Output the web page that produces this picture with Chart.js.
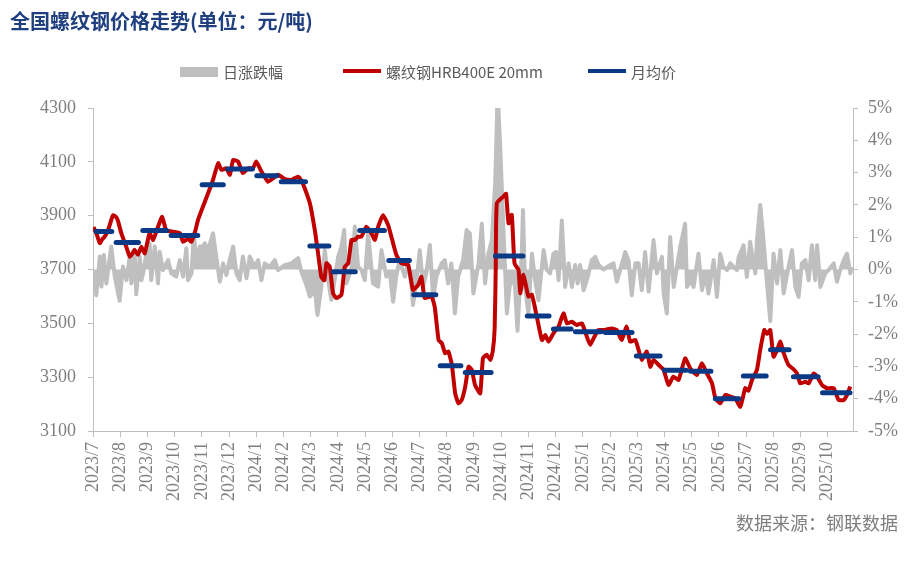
<!DOCTYPE html>
<html>
<head>
<meta charset="utf-8">
<script src="https://cdn.jsdelivr.net/npm/chart.js@4.4.1/dist/chart.umd.min.js"></script>
<style>
    html, body { margin: 0; padding: 0; background: #ffffff; }
    #wrap { width: 916px; height: 561px; }
</style>
</head>
<body>
<div id="wrap"><canvas id="priceChart" width="916" height="561"></canvas></div>
<script>
// Etiquetas del eje X (una por marca)
const monthLabels = [
    '2023/7', '2023/8', '2023/9', '2023/10', '2023/11', '2023/12',
    '2024/1', '2024/2', '2024/3', '2024/4', '2024/5', '2024/6',
    '2024/7', '2024/8', '2024/9', '2024/10', '2024/11', '2024/12',
    '2025/1', '2025/2', '2025/3', '2025/4', '2025/5', '2025/6',
    '2025/7', '2025/8', '2025/9', '2025/10'
];

// Inicio de cada mes sobre el eje (en unidades de marca), el ultimo es el fin de datos
const monthEdges = [
    0.04, 0.77, 1.75, 2.79, 3.93, 4.87, 5.94, 6.84, 7.89, 8.75, 9.72, 10.79,
    11.71, 12.68, 13.60, 14.71, 15.88, 16.84, 17.65, 18.75, 19.89, 20.92,
    21.88, 22.79, 23.82, 24.82, 25.66, 26.73, 27.90
];

// 月均价
const monthAvg = [
    3841, 3800, 3845, 3826, 4015, 4073, 4048, 4026, 3787, 3692, 3845, 3733,
    3606, 3342, 3317, 3750, 3527, 3479, 3469, 3466, 3379, 3326, 3322, 3220,
    3304, 3402, 3302, 3242
];

// 螺纹钢HRB400E 20mm
const priceDays = [
    0.02, 0.14, 0.25, 0.34, 0.43, 0.55, 0.66, 0.74, 0.85, 0.92, 1.04, 1.22, 1.35, 1.45, 1.53, 1.65,
    1.78, 1.90, 2.08, 2.21, 2.39, 2.54, 2.69, 2.85, 3.00, 3.19, 3.31, 3.49, 3.61, 3.75, 3.86, 4.04,
    4.23, 4.41, 4.60, 4.72, 4.90, 5.03, 5.15, 5.33, 5.51, 5.70, 5.88, 6.00, 6.19, 6.43, 6.62, 6.80,
    7.05, 7.29, 7.54, 7.66, 7.78, 7.97, 8.15, 8.27, 8.39, 8.50, 8.58, 8.70, 8.82, 8.94, 9.13, 9.25,
    9.38, 9.50, 9.62, 9.74, 9.86, 10.05, 10.23, 10.36, 10.48, 10.66, 10.85, 11.03, 11.15, 11.33, 11.58, 11.76,
    11.95, 12.07, 12.19, 12.44, 12.56, 12.70, 12.82, 12.94, 13.06, 13.19, 13.31, 13.43, 13.55, 13.68, 13.80, 13.92,
    14.04, 14.23, 14.33, 14.47, 14.60, 14.69, 14.76, 14.80, 14.84, 15.08, 15.18, 15.27, 15.39, 15.49, 15.64, 15.70,
    15.82, 16.00, 16.13, 16.31, 16.50, 16.62, 16.74, 16.92, 17.11, 17.29, 17.42, 17.60, 17.78, 17.97, 18.15, 18.27,
    18.46, 18.58, 18.76, 19.07, 19.25, 19.43, 19.61, 19.74, 19.93, 20.05, 20.17, 20.35, 20.48, 20.60, 20.78, 20.97,
    21.15, 21.33, 21.52, 21.76, 21.95, 22.19, 22.38, 22.56, 22.75, 22.87, 23.05, 23.24, 23.42, 23.60, 23.79, 23.97,
    24.09, 24.22, 24.40, 24.52, 24.67, 24.77, 24.89, 25.01, 25.14, 25.26, 25.38, 25.56, 25.74, 25.87, 25.99, 26.18,
    26.30, 26.49, 26.61, 26.79, 26.97, 27.22, 27.40, 27.59, 27.71, 27.83
];
const priceValues = [
    3858, 3830, 3798, 3812, 3822, 3845, 3880, 3902, 3895, 3880, 3835, 3785, 3748, 3760, 3773, 3755,
    3785, 3760, 3835, 3810, 3859, 3896, 3845, 3842, 3839, 3835, 3803, 3815, 3803, 3840, 3884, 3933,
    3983, 4033, 4095, 4070, 4076, 4052, 4107, 4101, 4058, 4076, 4076, 4101, 4064, 4026, 4039, 4052,
    4036, 4033, 4045, 4030, 4002, 3946, 3847, 3761, 3673, 3660, 3723, 3710, 3612, 3594, 3606, 3710,
    3723, 3810, 3810, 3822, 3822, 3859, 3835, 3810, 3859, 3902, 3864, 3797, 3754, 3723, 3717, 3624,
    3643, 3673, 3594, 3600, 3560, 3438, 3426, 3389, 3395, 3345, 3240, 3203, 3215, 3265, 3339, 3327,
    3271, 3240, 3370, 3383, 3364, 3395, 3480, 3700, 3946, 3971, 3981, 3872, 3903, 3723, 3698, 3612,
    3680, 3600, 3606, 3525, 3438, 3457, 3432, 3463, 3488, 3537, 3500, 3506, 3494, 3500, 3450, 3420,
    3457, 3475, 3475, 3481, 3475, 3438, 3488, 3432, 3438, 3401, 3364, 3395, 3339, 3364, 3346, 3327,
    3271, 3302, 3290, 3370, 3333, 3308, 3352, 3314, 3277, 3222, 3203, 3234, 3228, 3222, 3190, 3259,
    3250, 3290, 3327, 3401, 3475, 3460, 3475, 3376, 3401, 3432, 3390, 3345, 3330, 3314, 3277, 3283,
    3277, 3314, 3302, 3271, 3259, 3259, 3215, 3215, 3234, 3265
];

// 日涨跌幅 (%)
const changeDays = [
    0.04, 0.12, 0.25, 0.31, 0.40, 0.49, 0.67, 0.80, 0.98, 1.10, 1.23, 1.35, 1.41, 1.53, 1.59, 1.72,
    1.78, 1.84, 1.96, 2.08, 2.14, 2.27, 2.39, 2.45, 2.57, 2.76, 2.88, 3.06, 3.19, 3.31, 3.43, 3.49,
    3.62, 3.71, 3.80, 3.92, 4.04, 4.11, 4.23, 4.41, 4.53, 4.66, 4.78, 4.90, 5.02, 5.15, 5.27, 5.39,
    5.51, 5.64, 5.76, 5.94, 6.07, 6.19, 6.31, 6.50, 6.68, 6.80, 7.05, 7.29, 7.54, 7.66, 7.84, 7.97,
    8.15, 8.25, 8.39, 8.52, 8.64, 8.76, 8.88, 9.01, 9.13, 9.23, 9.31, 9.44, 9.56, 9.62, 9.74, 9.87,
    9.99, 10.11, 10.29, 10.48, 10.60, 10.78, 10.91, 11.03, 11.15, 11.27, 11.46, 11.58, 11.70, 11.76, 11.89, 12.01,
    12.13, 12.25, 12.38, 12.50, 12.62, 12.81, 12.93, 13.05, 13.17, 13.30, 13.42, 13.60, 13.73, 13.85, 13.98, 14.17,
    14.29, 14.41, 14.53, 14.66, 14.72, 14.78, 14.87, 14.96, 15.09, 15.21, 15.31, 15.39, 15.51, 15.60, 15.76, 15.80,
    15.88, 16.00, 16.13, 16.25, 16.37, 16.56, 16.68, 16.80, 16.92, 17.02, 17.11, 17.23, 17.35, 17.48, 17.60, 17.72,
    17.81, 17.90, 18.03, 18.15, 18.33, 18.46, 18.58, 18.76, 19.01, 19.13, 19.25, 19.44, 19.56, 19.68, 19.80, 19.93,
    20.05, 20.17, 20.29, 20.42, 20.54, 20.60, 20.72, 20.91, 20.97, 21.09, 21.21, 21.34, 21.46, 21.58, 21.76, 21.83,
    21.95, 22.07, 22.25, 22.38, 22.50, 22.62, 22.81, 22.93, 23.05, 23.17, 23.30, 23.42, 23.66, 23.73, 23.91, 24.03,
    24.15, 24.22, 24.34, 24.40, 24.52, 24.64, 24.77, 24.89, 25.01, 25.14, 25.26, 25.38, 25.56, 25.69, 25.81, 25.93,
    26.05, 26.18, 26.30, 26.42, 26.54, 26.61, 26.73, 26.91, 27.03, 27.22, 27.34, 27.46, 27.59, 27.71, 27.83, 27.89
];
const changeValues = [
    -0.12, -0.80, 0.40, -0.53, 0.45, -0.43, 0.71, -0.22, -0.97, 0.09, -0.33, 0.40, -0.43, 0.60, -0.77, 0.40,
    -0.33, -0.12, 0.50, 0.81, -0.33, 0.71, -0.43, 0.55, -0.02, 0.29, -0.12, -0.22, 0.29, -0.22, 0.66, -0.33,
    -0.12, 1.12, 0.09, 0.71, 0.71, 0.81, 0.60, 1.12, 0.40, -0.38, 0.19, -0.17, 0.29, 0.71, -0.12, -0.33,
    0.40, -0.27, 0.40, 0.09, 0.29, -0.33, 0.19, 0.09, 0.29, -0.02, 0.14, 0.19, 0.35, -0.07, -0.48, -0.84,
    -0.63, -1.41, -0.53, 0.60, -0.33, -0.94, -0.33, 0.40, 0.71, 1.22, -0.43, -0.12, 0.29, 1.33, 0.09, -0.02,
    -0.33, 1.12, -0.43, -0.53, 0.60, -0.22, -0.12, -1.00, -0.17, 0.29, -0.22, 0.19, -0.43, -1.10, -0.33, 0.60,
    -0.53, -0.12, 0.76, -0.90, -0.22, 0.19, 0.29, -0.43, 0.19, -1.36, -0.22, 0.29, 1.22, 1.11, -0.74, 0.20,
    1.42, -0.43, 0.49, 0.91, 1.83, 2.66, 5.50, 3.90, 1.11, -1.36, -0.54, -0.12, -0.54, -1.90, 0.60, 1.84,
    -0.54, -1.36, 0.49, -0.33, -0.95, 0.60, -0.02, -0.12, 0.49, 0.54, -0.33, 1.52, -0.54, 0.19, -0.54, 0.14,
    -0.43, 0.14, -0.64, -0.33, 0.29, 0.39, 0.14, 0.00, 0.14, 0.19, -0.38, 0.19, 0.54, 0.29, -0.80, 0.19,
    0.19, -0.64, 0.54, -0.69, 0.39, 0.91, -0.12, 0.39, -0.74, -1.36, 1.01, -0.54, 0.08, 0.70, 1.42, -0.54,
    -0.33, -0.54, 0.49, -0.64, -0.12, -0.74, 0.29, -0.85, 0.49, 0.08, -0.02, 0.19, -0.02, 0.39, 0.75, -0.23,
    0.86, 0.49, -0.12, 0.91, 2.00, 0.91, -0.43, -1.60, 0.49, -0.43, 0.60, -0.74, 0.08, 0.60, -0.54, -0.85,
    0.19, 0.29, -0.33, 0.75, -0.33, 0.75, -0.54, -0.12, -0.02, 0.19, -0.38, -0.02, 0.29, 0.49, -0.12, 0.08
];

const yTicks = [3100, 3300, 3500, 3700, 3900, 4100, 4300];
const y1Ticks = [-5, -4, -3, -2, -1, 0, 1, 2, 3, 4, 5];

const titleText = '全国螺纹钢价格走势(单位：元/吨)';
const sourceText = '数据来源：钢联数据';

const gray = '#bfbfbf';
const red = '#c00000';
const blue = '#0a3a86';
const axisColor = '#bfbfbf';
const tickFont = { family: '"Liberation Serif", "Times New Roman", serif', size: 18 };
const cjkFont = '"Noto Sans CJK SC", sans-serif';
const legendX = [180, 343, 588];

// Segmentos del promedio mensual
const avgPoints = [];
monthAvg.forEach((v, i) => {
    const gap = 0.08;
    avgPoints.push({ x: monthEdges[i] + gap, y: v });
    avgPoints.push({ x: monthEdges[i + 1] - gap, y: v });
    avgPoints.push({ x: monthEdges[i + 1], y: null });
});

const pricePoints = priceDays.map((d, i) => ({ x: d, y: priceValues[i] }));
const changePoints = changeDays.map((d, i) => ({ x: d, y: changeValues[i] }));

// Titulo, leyenda y fuente
const decorPlugin = {
    id: 'decor',
    afterDraw(chart) {
        const ctx = chart.ctx;
        ctx.save();

        ctx.fillStyle = '#1f3f7f';
        ctx.font = 'bold 20px ' + cjkFont;
        ctx.textAlign = 'left';
        ctx.textBaseline = 'middle';
        ctx.fillText(titleText, 10, 21);

        // leyenda
        const y = 72;
        ctx.font = '15px ' + cjkFont;
        chart.data.datasets.forEach((ds, i) => {
            const x = legendX[i];
            if (ds.legendType === 'box') {
                ctx.fillStyle = ds.borderColor;
                ctx.fillRect(x, y - 5, 38, 10);
            } else {
                ctx.strokeStyle = ds.borderColor;
                ctx.lineWidth = 4;
                ctx.beginPath();
                ctx.moveTo(x, y - 1);
                ctx.lineTo(x + 38, y - 1);
                ctx.stroke();
            }
            ctx.fillStyle = '#595959';
            ctx.fillText(ds.label, x + 43, y);
        });

        ctx.fillStyle = '#7f7f7f';
        ctx.font = '18px ' + cjkFont;
        ctx.textAlign = 'right';
        ctx.fillText(sourceText, 898, 523);
        ctx.restore();
    }
};

new Chart(document.getElementById('priceChart'), {
    type: 'line',
    data: {
        datasets: [
            {
                label: '日涨跌幅',
                legendType: 'box',
                data: changePoints,
                yAxisID: 'y1',
                borderColor: gray,
                backgroundColor: gray,
                borderWidth: 4,
                borderJoinStyle: 'round',
                fill: 'origin',
                pointRadius: 0,
                tension: 0,
                order: 3
            },
            {
                label: '螺纹钢HRB400E 20mm',
                data: pricePoints,
                yAxisID: 'y',
                borderColor: red,
                borderWidth: 4,
                borderJoinStyle: 'round',
                pointRadius: 0,
                tension: 0.15,
                order: 2
            },
            {
                label: '月均价',
                data: avgPoints,
                yAxisID: 'y',
                borderColor: blue,
                borderWidth: 5,
                borderCapStyle: 'round',
                spanGaps: false,
                pointRadius: 0,
                tension: 0,
                order: 1
            }
        ]
    },
    options: {
        responsive: false,
        animation: false,
        layout: { padding: { top: 108, left: 0, right: 0, bottom: 0 } },
        plugins: {
            legend: { display: false },
            tooltip: { enabled: false }
        },
        scales: {
            x: {
                type: 'linear',
                min: 0,
                max: 27.93,
                afterBuildTicks: s => { s.ticks = monthLabels.map((_, i) => ({ value: i })); },
                afterFit: s => { s.height = 130; },
                border: { color: axisColor, width: 1 },
                grid: { drawOnChartArea: false, color: axisColor, tickLength: 6 },
                ticks: {
                    autoSkip: false,
                    minRotation: 90,
                    maxRotation: 90,
                    padding: 5,
                    color: '#7f7f7f',
                    font: tickFont,
                    callback: v => monthLabels[v]
                }
            },
            y: {
                position: 'left',
                min: 3100,
                max: 4300,
                afterBuildTicks: s => { s.ticks = yTicks.map(v => ({ value: v })); },
                afterFit: s => { s.width = 93; },
                border: { color: axisColor, width: 1 },
                grid: { drawOnChartArea: false, color: axisColor, tickLength: 5 },
                ticks: { padding: 12, color: '#7f7f7f', font: tickFont, callback: v => String(v) }
            },
            y1: {
                position: 'right',
                min: -5,
                max: 5,
                afterBuildTicks: s => { s.ticks = y1Ticks.map(v => ({ value: v })); },
                afterFit: s => { s.width = 63; },
                border: { color: axisColor, width: 1 },
                grid: { drawOnChartArea: false, color: axisColor, tickLength: 5 },
                ticks: { padding: 10, color: '#7f7f7f', font: tickFont, callback: v => v + '%' }
            }
        }
    },
    plugins: [decorPlugin]
});
</script>
</body>
</html>
